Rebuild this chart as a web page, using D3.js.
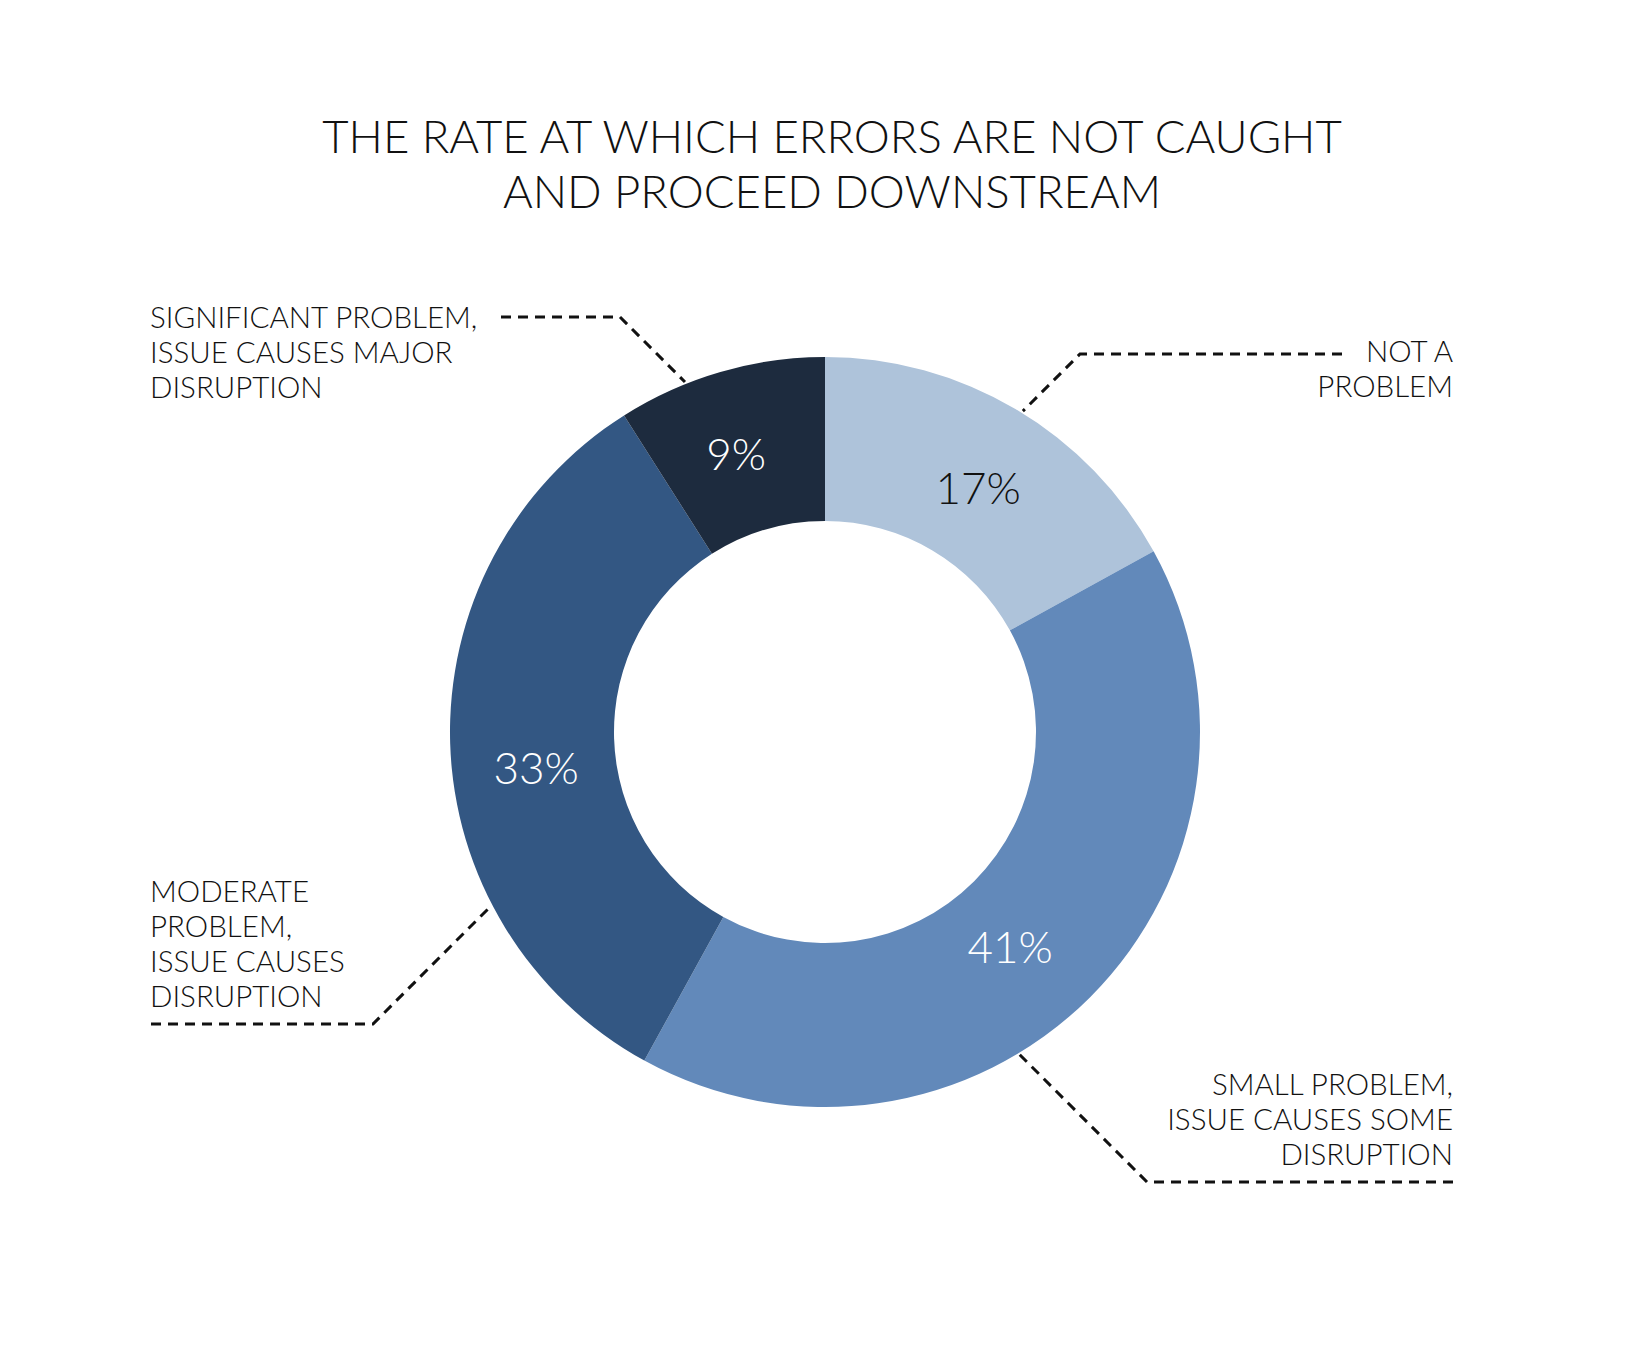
<!DOCTYPE html>
<html>
<head>
<meta charset="utf-8">
<script src="https://cdn.jsdelivr.net/npm/d3@7"></script>
<style>
  body { margin: 0; background: #fff; }
  text { font-family: "Lato Light", "Lato Hairline", Lato, "Open Sans", sans-serif; font-weight: 300; }
</style>
</head>
<body>
<div id="chart"></div>
<script>
var categories = ['NOT A PROBLEM', 'SMALL PROBLEM', 'MODERATE PROBLEM', 'SIGNIFICANT PROBLEM'];
var values = [17, 41, 33, 9];
var valueLabels = ['17%', '41%', '33%', '9%'];
var labelLines = [
  ['NOT A', 'PROBLEM'],
  ['SMALL PROBLEM,', 'ISSUE CAUSES SOME', 'DISRUPTION'],
  ['MODERATE', 'PROBLEM,', 'ISSUE CAUSES', 'DISRUPTION'],
  ['SIGNIFICANT PROBLEM,', 'ISSUE CAUSES MAJOR', 'DISRUPTION']
];
var titleLines = ['THE RATE AT WHICH ERRORS ARE NOT CAUGHT', 'AND PROCEED DOWNSTREAM'];

var colors = ['#aec3da', '#6289ba', '#335783', '#1d2b3e'];
var valueTextColors = ['#111', '#fff', '#fff', '#fff'];
// small nudges of the value labels away from the plain centroid
var valueNudge = [[4, 8], [-22, 8], [4, 27], [-7, 4]];

var width = 1650;
var height = 1350;
var cx = 825;
var cy = 732;
var outerR = 375;
var innerR = 211;

// where each callout sits: text anchor, first baseline, dashed leader row
var callouts = [
  { anchor: 'end',   x: 1453, y: 362,  lineY: 354,  lineFrom: 1342, elbow: 1080 },
  { anchor: 'end',   x: 1453, y: 1095, lineY: 1182, lineFrom: 1453, elbow: 1147 },
  { anchor: 'start', x: 150,  y: 902,  lineY: 1024, lineFrom: 151,  elbow: 373 },
  { anchor: 'start', x: 150,  y: 328,  lineY: 317,  lineFrom: 501,  elbow: 620 }
];

var svg = d3.select('#chart')
  .append('svg')
  .attr('width', width)
  .attr('height', height);

svg.append('text')
  .attr('x', 832)
  .attr('y', 153)
  .attr('text-anchor', 'middle')
  .attr('font-size', 45.5)
  .attr('fill', '#111')
  .selectAll('tspan')
  .data(titleLines)
  .enter()
  .append('tspan')
  .attr('x', 832)
  .attr('dy', function (d, i) { return i === 0 ? 0 : 55; })
  .text(function (d) { return d; });

var pie = d3.pie()
  .sort(null)
  .value(function (d) { return d; });

var arc = d3.arc()
  .innerRadius(innerR)
  .outerRadius(outerR);

var slices = pie(values);

var g = svg.append('g')
  .attr('transform', 'translate(' + cx + ',' + cy + ')');

g.selectAll('path')
  .data(slices)
  .enter()
  .append('path')
  .attr('d', arc)
  .attr('fill', function (d, i) { return colors[i]; });

g.selectAll('text.value')
  .data(slices)
  .enter()
  .append('text')
  .attr('class', 'value')
  .attr('transform', function (d, i) {
    var c = arc.centroid(d);
    return 'translate(' + (c[0] + valueNudge[i][0]) + ',' + (c[1] + valueNudge[i][1]) + ')';
  })
  .attr('dy', '0.36em')
  .attr('text-anchor', 'middle')
  .attr('font-size', 44)
  .attr('fill', function (d, i) { return valueTextColors[i]; })
  .text(function (d, i) { return valueLabels[i]; });

// dashed leaders: horizontal run, then a 45 degree run until it meets the ring
function leaderPoints(c) {
  var ex = c.elbow - cx;
  var ey = c.lineY - cy;
  var dx = ex < 0 ? 1 : -1;
  var dy = ey < 0 ? 1 : -1;
  var r = outerR + 2;
  // solve |e + u*(dx,dy)| = r for the smaller u
  var b = ex * dx + ey * dy;
  var cc = ex * ex + ey * ey - r * r;
  var u = (-b - Math.sqrt(b * b - 2 * cc)) / 2;
  return [
    [c.lineFrom, c.lineY],
    [c.elbow, c.lineY],
    [c.elbow + u * dx, c.lineY + u * dy]
  ];
}

svg.selectAll('path.leader')
  .data(callouts)
  .enter()
  .append('path')
  .attr('class', 'leader')
  .attr('d', function (d) { return d3.line()(leaderPoints(d)); })
  .attr('fill', 'none')
  .attr('stroke', '#111')
  .attr('stroke-width', 3)
  .attr('stroke-dasharray', '10 7');

svg.selectAll('text.callout')
  .data(callouts)
  .enter()
  .append('text')
  .attr('class', 'callout')
  .attr('text-anchor', function (d) { return d.anchor; })
  .attr('font-size', 29.5)
  .attr('fill', '#111')
  .each(function (d, i) {
    d3.select(this).selectAll('tspan')
      .data(labelLines[i])
      .enter()
      .append('tspan')
      .attr('x', d.x)
      .attr('y', function (t, j) { return d.y + j * 35; })
      .text(function (t) { return t; });
  });
</script>
</body>
</html>
